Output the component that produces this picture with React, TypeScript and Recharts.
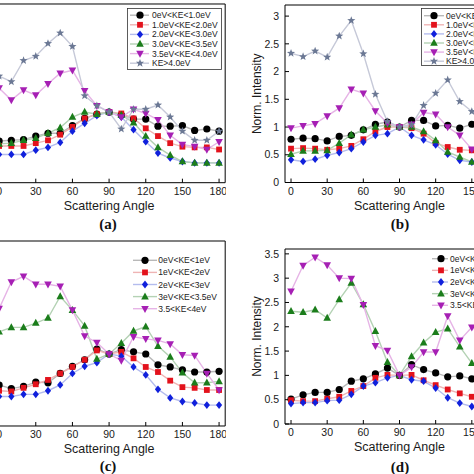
import React from 'react'
import { LineChart, Line, XAxis, YAxis, Legend } from 'recharts'

// scattering angle, degrees
const angles = [0, 10, 20, 30, 40, 50, 60, 70, 80, 90, 100, 110, 120, 130, 140, 150, 160, 170, 180]
const xTicks = [0, 30, 60, 90, 120, 150, 180]

// (a)
const aNames = ['0eV<KE<1.0eV', '1.0eV<KE<2.0eV', '2.0eV<KE<3.0eV', '3.0eV<KE<3.5eV', '3.5eV<KE<4.0eV', 'KE>4.0eV']
const aKe01 = [0.59, 0.6, 0.61, 0.66, 0.7, 0.7, 0.81, 0.91, 0.97, 1.0, 0.96, 0.9, 0.9, 0.8, 0.8, 0.81, 0.74, 0.76, 0.73]
const aKe12 = [0.52, 0.52, 0.52, 0.56, 0.6, 0.68, 0.79, 0.91, 0.97, 1.0, 0.98, 0.91, 0.77, 0.66, 0.56, 0.51, 0.5, 0.5, 0.47]
const aKe23 = [0.4, 0.4, 0.4, 0.46, 0.5, 0.57, 0.73, 0.84, 0.95, 1.0, 0.93, 0.75, 0.58, 0.42, 0.35, 0.3, 0.28, 0.28, 0.28]
const aKe335 = [0.55, 0.56, 0.6, 0.63, 0.7, 0.78, 0.93, 1.0, 0.97, 1.0, 0.96, 0.85, 0.66, 0.5, 0.39, 0.3, 0.28, 0.28, 0.28]
const aKe354 = [1.34, 1.17, 1.31, 1.24, 1.4, 1.55, 1.59, 1.3, 1.09, 1.0, 0.93, 1.04, 0.98, 0.89, 0.67, 0.54, 0.51, 0.47, 0.58]
const aKe4 = [1.51, 1.43, 1.73, 1.79, 1.97, 2.12, 1.93, 1.23, 1.09, 1.0, 0.76, 1.04, 1.04, 1.1, 0.93, 0.73, 0.6, 0.6, 0.73]
const aTicks = [0, 0.5, 1, 1.5, 2, 2.5]

// (b)
const bKe01 = [0.78, 0.8, 0.79, 0.75, 0.83, 0.85, 0.95, 1.05, 1.09, 1.0, 1.12, 1.12, 1.02, 1.03, 0.98, 1.05, 1.0, 1.02, 1.0]
const bKe12 = [0.61, 0.62, 0.61, 0.59, 0.61, 0.66, 0.78, 0.92, 1.0, 1.0, 0.98, 0.88, 0.71, 0.64, 0.59, 0.58, 0.6, 0.58, 0.6]
const bKe23 = [0.41, 0.38, 0.42, 0.49, 0.54, 0.61, 0.73, 0.85, 0.88, 1.0, 0.85, 0.77, 0.68, 0.51, 0.4, 0.37, 0.36, 0.35, 0.36]
const bKe335 = [0.51, 0.57, 0.57, 0.58, 0.71, 0.86, 0.95, 1.0, 1.04, 1.0, 1.0, 0.92, 0.76, 0.55, 0.46, 0.37, 0.36, 0.36, 0.37]
const bKe354 = [0.98, 1.02, 1.06, 1.2, 1.34, 1.68, 1.61, 1.29, 1.07, 1.0, 1.05, 1.26, 1.23, 1.0, 0.85, 0.6, 0.62, 0.6, 0.7]
const bKe4 = [2.33, 2.27, 2.37, 2.26, 2.64, 2.92, 2.32, 1.59, 1.1, 1.0, 1.04, 1.39, 1.61, 1.85, 1.46, 1.28, 1.2, 1.1, 1.2]
const bTicks = [0, 0.5, 1, 1.5, 2, 2.5, 3]

// (c)
const cNames = ['0eV<KE<1eV', '1eV<KE<2eV', '2eV<KE<3eV', '3eV<KE<3.5eV', '3.5<KE<4eV']
const cKe01 = [0.57, 0.52, 0.55, 0.61, 0.6, 0.73, 0.83, 0.92, 1.07, 1.0, 1.06, 1.03, 1.0, 0.85, 0.82, 0.78, 0.75, 0.75, 0.76]
const cKe12 = [0.49, 0.48, 0.53, 0.58, 0.64, 0.73, 0.82, 0.92, 1.05, 1.0, 1.03, 0.94, 0.82, 0.75, 0.63, 0.54, 0.53, 0.5, 0.5]
const cKe23 = [0.41, 0.41, 0.44, 0.44, 0.49, 0.57, 0.73, 0.83, 0.88, 1.0, 0.97, 0.82, 0.71, 0.51, 0.39, 0.34, 0.32, 0.29, 0.29]
const cKe335 = [1.31, 1.37, 1.37, 1.43, 1.5, 1.8, 1.61, 1.39, 0.93, 1.0, 1.15, 1.32, 1.38, 1.11, 0.96, 0.74, 0.6, 0.6, 0.62]
const cKe354 = [1.63, 2.0, 2.08, 1.97, 1.97, 1.94, 1.61, 1.25, 1.16, 1.0, 0.91, 1.24, 1.21, 1.19, 1.14, 0.99, 0.98, 0.73, 0.5]
const cTicks = [0, 0.5, 1, 1.5, 2, 2.5]

// (d)
const dKe01 = [0.51, 0.6, 0.65, 0.65, 0.71, 0.88, 0.93, 1.03, 1.15, 1.0, 1.22, 1.12, 1.05, 0.97, 0.99, 0.93, 0.95, 0.9, 0.92]
const dKe12 = [0.49, 0.47, 0.47, 0.52, 0.56, 0.68, 0.78, 0.95, 1.01, 1.0, 1.01, 0.9, 0.8, 0.71, 0.63, 0.56, 0.55, 0.52, 0.5]
const dKe23 = [0.42, 0.44, 0.44, 0.48, 0.49, 0.61, 0.78, 0.85, 0.95, 1.0, 0.91, 0.88, 0.74, 0.54, 0.43, 0.36, 0.35, 0.33, 0.34]
const dKe335 = [2.32, 2.3, 2.35, 2.18, 2.56, 2.9, 2.46, 1.91, 1.27, 1.0, 1.39, 1.67, 1.89, 1.96, 1.59, 1.25, 1.2, 1.1, 1.15]
const dKe354 = [2.73, 3.26, 3.43, 3.27, 3.0, 2.99, 2.45, 1.61, 1.51, 1.0, 1.17, 1.48, 1.48, 2.22, 1.72, 1.99, 1.8, 1.6, 1.7]
const dTicks = [0, 0.5, 1, 1.5, 2, 2.5, 3, 3.5]

type Shape = 'circle' | 'square' | 'diamond' | 'up' | 'down' | 'star'

const STYLES: { shape: Shape; fill: string; line: string }[] = [
  { shape: 'circle', fill: '#000000', line: '#b8b8b8' },
  { shape: 'square', fill: '#e3121c', line: '#efb4b4' },
  { shape: 'diamond', fill: '#1020dc', line: '#b4bcee' },
  { shape: 'up', fill: '#1b7d1b', line: '#b4d2b4' },
  { shape: 'down', fill: '#a61fb4', line: '#e6b4e6' },
  { shape: 'star', fill: '#6b7894', line: '#c6c9d8' },
]

const FONT = "'Liberation Sans', Arial, sans-serif"

function Marker({ shape, cx, cy, fill }: { shape: Shape; cx: number; cy: number; fill: string }) {
  switch (shape) {
    case 'circle':
      return <circle cx={cx} cy={cy} r={3.6} fill={fill} />
    case 'square':
      return <rect x={cx - 2.9} y={cy - 2.9} width={5.8} height={5.8} fill={fill} />
    case 'diamond':
      return <polygon points={`${cx},${cy - 3.9} ${cx + 3.1},${cy} ${cx},${cy + 3.9} ${cx - 3.1},${cy}`} fill={fill} />
    case 'up':
      return <polygon points={`${cx},${cy - 4.2} ${cx + 3.8},${cy + 2.8} ${cx - 3.8},${cy + 2.8}`} fill={fill} />
    case 'down':
      return <polygon points={`${cx},${cy + 4.2} ${cx + 3.8},${cy - 2.8} ${cx - 3.8},${cy - 2.8}`} fill={fill} />
    default: {
      const pts: string[] = []
      for (let i = 0; i < 10; i++) {
        const r = i % 2 === 0 ? 4.3 : 1.8
        const a = -Math.PI / 2 + (i * Math.PI) / 5
        pts.push(`${cx + r * Math.cos(a)},${cy + r * Math.sin(a)}`)
      }
      return <polygon points={pts.join(' ')} fill={fill} />
    }
  }
}

const dotFor = (k: number) => (props: any) => {
  const { cx, cy, index } = props
  if (cx == null || cy == null) return <g key={`d${k}-${index}`} />
  return (
    <g key={`d${k}-${index}`}>
      <Marker shape={STYLES[k].shape} cx={cx} cy={cy} fill={STYLES[k].fill} />
    </g>
  )
}

interface LegendCfg {
  x: number
  y: number
  w: number
  h: number
  box: boolean
  row0: number
  rowH: number
  line: [number, number]
  mark: number
  text: number
}

function LegendBox({ cfg, names }: { cfg: LegendCfg; names: string[] }) {
  return (
    <svg width={cfg.w} height={cfg.h} style={{ display: 'block', overflow: 'visible' }}>
      {cfg.box && <rect x={0.5} y={0.5} width={cfg.w - 1} height={cfg.h - 1} fill="#fff" stroke="#333" strokeWidth={0.8} />}
      {names.map((n, k) => {
        const y = cfg.row0 + k * cfg.rowH
        return (
          <g key={n}>
            <line x1={cfg.line[0]} x2={cfg.line[1]} y1={y} y2={y} stroke={STYLES[k].line} strokeWidth={1.4} />
            <Marker shape={STYLES[k].shape} cx={cfg.mark} cy={y} fill={STYLES[k].fill} />
            <text x={cfg.text} y={y + 3} fontSize={8.5} fontFamily={FONT} fill="#222">
              {n}
            </text>
          </g>
        )
      })}
    </svg>
  )
}

const YW = 50
const XH = 34

interface PanelProps {
  left: number
  top: number
  width: number
  height: number
  ymax: number
  yticks: number[]
  series: number[][]
  names: string[]
  legend: LegendCfg
}

function Panel({ left, top, width, height, ymax, yticks, series, names, legend }: PanelProps) {
  const data = angles.map((a, i) => {
    const row: Record<string, number> = { angle: a }
    series.forEach((s, k) => {
      row['s' + k] = s[i]
    })
    return row
  })
  const chartLeft = left - YW
  const chartTop = top - 1
  const tickStyle = { fontSize: 10.5, fill: '#1a1a1a', fontFamily: FONT }

  return (
    <div style={{ position: 'absolute', left: chartLeft, top: chartTop }}>
      <LineChart
        width={YW + width + 1}
        height={1 + height + XH}
        data={data}
        margin={{ top: 0, right: 0, bottom: 0, left: 0 }}
      >
        <XAxis
          xAxisId="b"
          dataKey="angle"
          type="number"
          domain={[-5, 185]}
          ticks={xTicks}
          height={XH}
          stroke="#000"
          tickSize={-4}
          tickMargin={9}
          tick={tickStyle}
          label={{
            value: 'Scattering Angle',
            position: 'insideBottom',
            offset: 7,
            style: { fontSize: 12.5, fill: '#1a1a1a', fontFamily: FONT },
          }}
        />
        <XAxis
          xAxisId="t"
          orientation="top"
          dataKey="angle"
          type="number"
          domain={[-5, 185]}
          ticks={xTicks}
          height={1}
          stroke="#000"
          tickSize={-4}
          tick={false}
        />
        <YAxis
          yAxisId="l"
          type="number"
          domain={[0, ymax]}
          ticks={yticks}
          allowDataOverflow
          width={YW}
          stroke="#000"
          tickSize={-4}
          tickMargin={10}
          tick={tickStyle}
          label={{
            value: 'Norm. Intensity',
            angle: -90,
            position: 'insideLeft',
            offset: 22,
            style: { fontSize: 12, fill: '#1a1a1a', fontFamily: FONT, textAnchor: 'middle' },
          }}
        />
        <YAxis
          yAxisId="r"
          orientation="right"
          type="number"
          domain={[0, ymax]}
          ticks={yticks}
          allowDataOverflow
          width={1}
          stroke="#000"
          tickSize={-4}
          tick={false}
        />
        <Legend
          layout="vertical"
          align="center"
          verticalAlign="middle"
          content={() => <LegendBox cfg={legend} names={names} />}
          wrapperStyle={{ left: legend.x - chartLeft, top: legend.y - chartTop, width: legend.w, height: legend.h }}
        />
        {series.map((_, k) => (
          <Line
            key={k}
            xAxisId="b"
            yAxisId="l"
            type="linear"
            dataKey={'s' + k}
            name={names[k]}
            stroke={STYLES[k].line}
            strokeWidth={1.4}
            dot={dotFor(k)}
            activeDot={false}
            isAnimationActive={false}
          />
        ))}
      </LineChart>
    </div>
  )
}

const letterStyle: React.CSSProperties = {
  position: 'absolute',
  width: 40,
  height: 20,
  lineHeight: '20px',
  textAlign: 'center',
  fontFamily: "'Liberation Serif', 'Times New Roman', serif",
  fontWeight: 'bold',
  fontSize: 15,
  color: '#111',
}

export default function App() {
  return (
    <div style={{ position: 'absolute', left: 0, top: 0, width: 474, height: 474, overflow: 'hidden', background: '#fff' }}>
      <Panel
        left={-6.8}
        top={4}
        width={232.2}
        height={178.7}
        ymax={2.53}
        yticks={aTicks}
        series={[aKe01, aKe12, aKe23, aKe335, aKe354, aKe4]}
        names={aNames}
        legend={{ x: 127, y: 8, w: 95, h: 62, box: true, row0: 7.2, rowH: 9.6, line: [3, 22], mark: 13, text: 25 }}
      />
      <Panel
        left={285}
        top={4.5}
        width={229}
        height={177.5}
        ymax={3.2}
        yticks={bTicks}
        series={[bKe01, bKe12, bKe23, bKe335, bKe354, bKe4]}
        names={aNames}
        legend={{ x: 421, y: 8, w: 95, h: 58, box: true, row0: 7.7, rowH: 9.1, line: [3, 23], mark: 13, text: 25 }}
      />
      <Panel
        left={-6.8}
        top={241}
        width={232.2}
        height={185}
        ymax={2.57}
        yticks={cTicks}
        series={[cKe01, cKe12, cKe23, cKe335, cKe354]}
        names={cNames}
        legend={{ x: 130, y: 250, w: 90, h: 66, box: false, row0: 10.3, rowH: 12.1, line: [3, 27], mark: 15, text: 28.3 }}
      />
      <Panel
        left={285}
        top={248.7}
        width={229}
        height={175}
        ymax={3.6}
        yticks={dTicks}
        series={[dKe01, dKe12, dKe23, dKe335, dKe354]}
        names={cNames}
        legend={{ x: 430, y: 250, w: 90, h: 62, box: false, row0: 8.7, rowH: 11.65, line: [2, 18], mark: 11, text: 20 }}
      />
      <div style={{ ...letterStyle, left: 88, top: 214 }}>(a)</div>
      <div style={{ ...letterStyle, left: 380, top: 214 }}>(b)</div>
      <div style={{ ...letterStyle, left: 88, top: 456 }}>(c)</div>
      <div style={{ ...letterStyle, left: 380, top: 457 }}>(d)</div>
    </div>
  )
}
